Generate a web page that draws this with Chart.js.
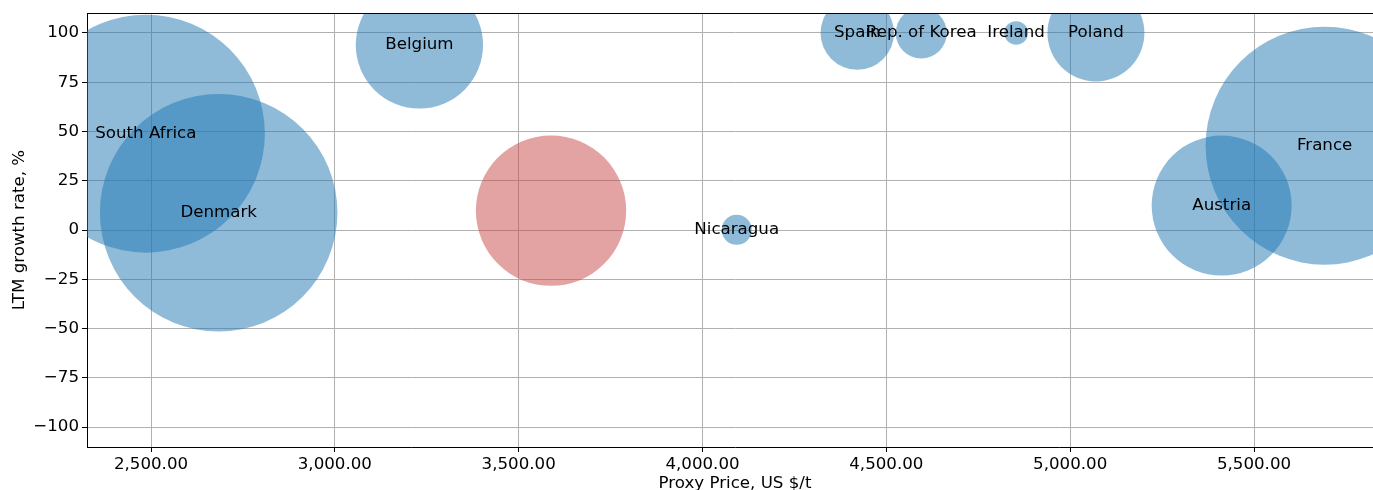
<!DOCTYPE html>
<html>
<head>
<meta charset="utf-8">
<script src="https://cdn.jsdelivr.net/npm/chart.js@4/dist/chart.umd.min.js"></script>
<style>
  html, body { margin: 0; padding: 0; background: #fff; overflow: hidden; }
  #wrap { position: absolute; left: 0; top: 0; width: 1400px; height: 500px; }
</style>
</head>
<body>
<div id="wrap"><canvas id="c"></canvas></div>
<script>
// ---- data ----
const countries   = ['South Africa', 'Denmark', 'Belgium', 'Nicaragua', 'Spain', 'Rep. of Korea', 'Ireland', 'Poland', 'Austria', 'France'];
const proxyPrice  = [2486, 2684, 3230, 4093, 4421, 4595, 4853, 5070, 5412, 5692];
const ltmGrowth   = [48.9, 8.8, 93.9, 0.1, 100, 100, 100, 100, 12.4, 42.8];
const tradeVolume = [1416, 1411, 405, 22.5, 135, 65, 14, 235, 490, 1416];

const focusPrice  = [3588];
const focusGrowth = [9.8];
const focusVolume = [565];

const xTickValues = [2500, 3000, 3500, 4000, 4500, 5000, 5500];
const yTickValues = [-100, -75, -50, -25, 0, 25, 50, 75, 100];

// ---- helpers ----
const sizeToRadius = v => Math.sqrt(v * 10);
const FONT = { family: 'DejaVu Sans', size: 16.67 };

const mainPoints = countries.map((c, i) => ({ x: proxyPrice[i], y: ltmGrowth[i], r: sizeToRadius(tradeVolume[i]) }));
const focusPoints = focusPrice.map((p, i) => ({ x: p, y: focusGrowth[i], r: sizeToRadius(focusVolume[i]) }));

const labelPlugin = {
  id: 'bubbleLabels',
  afterDraw(chart) {
    const ctx = chart.ctx;
    const meta = chart.getDatasetMeta(0);
    ctx.save();
    ctx.strokeStyle = '#000';
    ctx.lineWidth = 1;
    ctx.beginPath();
    ctx.moveTo(chart.chartArea.left, chart.chartArea.top + 0.5);
    ctx.lineTo(chart.chartArea.right, chart.chartArea.top + 0.5);
    ctx.stroke();
    ctx.font = FONT.size + 'px "' + FONT.family + '"';
    ctx.fillStyle = '#000';
    ctx.textAlign = 'center';
    ctx.textBaseline = 'middle';
    meta.data.forEach((el, i) => {
      ctx.fillText(countries[i], el.x, el.y);
    });
    ctx.restore();
  }
};

const fmtX = v => v.toLocaleString('en-US', { minimumFractionDigits: 2, maximumFractionDigits: 2 });
const fmtY = v => (v < 0 ? '\u2212' + Math.abs(v) : String(v));

new Chart(document.getElementById('c'), {
  type: 'bubble',
  data: {
    datasets: [
      { label: 'Countries', data: mainPoints, backgroundColor: 'rgba(31,119,180,0.5)', borderWidth: 0, hoverBorderWidth: 0, clip: 0 },
      { label: 'Focus', data: focusPoints, backgroundColor: 'rgba(199,71,71,0.5)', borderWidth: 0, hoverBorderWidth: 0, clip: 0 }
    ]
  },
  options: {
    responsive: true,
    maintainAspectRatio: false,
    devicePixelRatio: 1,
    animation: false,
    events: [],
    layout: { autoPadding: false, padding: { left: 0, top: 12, right: 17, bottom: 0 } },
    plugins: { legend: { display: false }, tooltip: { enabled: false } },
    scales: {
      x: {
        type: 'linear',
        min: 2325.9,
        max: 5850.8,
        z: 1,
        afterBuildTicks: s => { s.ticks = xTickValues.map(v => ({ value: v })); },
        afterFit: s => { s.height = 53; },
        grid: { color: '#b0b0b0', lineWidth: 1, drawTicks: true, tickLength: 5, tickColor: '#000', tickWidth: 1 },
        border: { display: true, color: '#000', width: 1 },
        ticks: { color: '#000', font: FONT, padding: 3, maxRotation: 0, autoSkip: false, callback: v => fmtX(v) },
        title: { display: true, text: 'Proxy Price, US $/t', color: '#000', font: FONT, padding: { top: 0, bottom: 6 } }
      },
      y: {
        type: 'linear',
        min: -110.13,
        max: 110.13,
        z: 1,
        afterBuildTicks: s => { s.ticks = yTickValues.map(v => ({ value: v })); },
        afterFit: s => { s.width = 87; },
        grid: { color: '#b0b0b0', lineWidth: 1, drawTicks: true, tickLength: 5, tickColor: '#000', tickWidth: 1 },
        border: { display: true, color: '#000', width: 1 },
        ticks: { color: '#000', font: FONT, padding: 3, autoSkip: false, callback: v => fmtY(v) },
        title: { display: true, text: 'LTM growth rate, %', color: '#000', font: FONT, padding: { top: 10, bottom: 0 } }
      }
    }
  },
  plugins: [labelPlugin]
});
</script>
</body>
</html>
